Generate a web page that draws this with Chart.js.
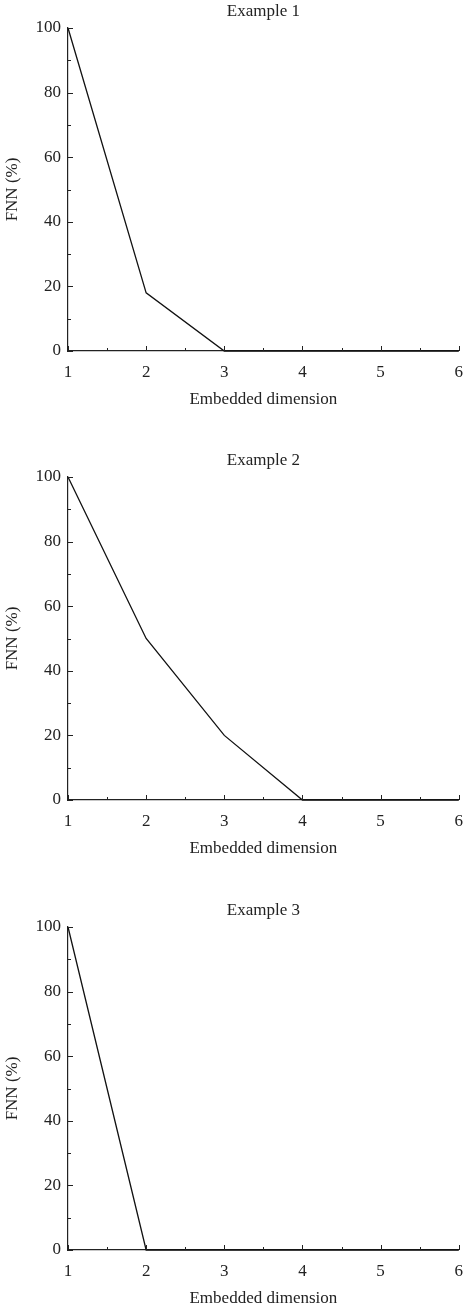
<!DOCTYPE html>
<html><head><meta charset="utf-8">
<script src="https://cdn.jsdelivr.net/npm/chart.js@4/dist/chart.umd.min.js"></script>
<style>body{margin:0;background:#fff;width:474px;height:1309px;position:relative;overflow:hidden}
.p{position:absolute;left:0;width:474px;height:410px}</style></head>
<body>
<div class="p" style="top:0"><canvas id="c0"></canvas></div>
<div class="p" style="top:449px"><canvas id="c1"></canvas></div>
<div class="p" style="top:899px"><canvas id="c2"></canvas></div>
<script>
const dims = [1, 2, 3, 4, 5, 6];
const example1 = [100, 18, 0, 0, 0, 0];
const example2 = [100, 50, 20, 0, 0, 0];
const example3 = [100, 0, 0, 0, 0, 0];
const titles = ['Example 1', 'Example 2', 'Example 3'];
const yTicks = [0, 20, 40, 60, 80, 100];
const series = [example1, example2, example3];
const FONT = "'Liberation Serif', serif";

const inwardTicks = {
  id: 'inwardTicks',
  afterDraw(chart, args, opts) {
    const {ctx, scales:{x, y}} = chart;
    ctx.save(); ctx.strokeStyle = '#222'; ctx.lineWidth = 1;
    for (let v = 1; v <= 6; v += 0.5) {
      const px = Math.round(x.getPixelForValue(v)) + 0.5;
      const len = Number.isInteger(v) ? 5 : 3;
      ctx.beginPath(); ctx.moveTo(px, y.bottom); ctx.lineTo(px, y.bottom - len); ctx.stroke();
    }
    for (let v = 0; v <= 100; v += 10) {
      const py = Math.round(y.getPixelForValue(v)) + 0.5;
      const len = v % 20 === 0 ? 5 : 3;
      ctx.beginPath(); ctx.moveTo(x.left, py); ctx.lineTo(x.left + len, py); ctx.stroke();
    }
    ctx.fillStyle = '#222'; ctx.font = "17px " + FONT;
    ctx.textAlign = 'center'; ctx.textBaseline = 'middle';
    ctx.fillText(opts.text, (x.left + x.right) / 2, 12);
    ctx.restore();
  }
};

series.forEach((vals, i) => {
  new Chart(document.getElementById('c' + i), {
    type: 'line',
    data: { datasets: [{ data: dims.map((d, k) => ({x: d, y: vals[k]})), borderColor: '#111', borderWidth: 1.3, pointRadius: 0, tension: 0, clip: false }] },
    options: {
      responsive: true, maintainAspectRatio: false, animation: false,
      layout: { padding: { left: 0, right: 4, top: 28, bottom: 0 } },
      plugins: {
        legend: { display: false }, tooltip: { enabled: false },
        title: { display: false },
        inwardTicks: { text: titles[i] }
      },
      scales: {
        x: {
          type: 'linear', min: 1, max: 6,
          grid: { display: false, drawTicks: false },
          border: { display: true, color: '#222', width: 1.2 },
          ticks: { stepSize: 1, color: '#222', padding: 11, font: { family: FONT, size: 17 } },
          title: { display: true, text: 'Embedded dimension', color: '#222', font: { family: FONT, size: 17 }, padding: { top: 0, bottom: 0 } },
          afterFit(s) { s.height = 59; }
        },
        y: {
          min: 0, max: 100,
          afterBuildTicks(s) { s.ticks = yTicks.map(v => ({value: v})); },
          grid: { display: false, drawTicks: false },
          border: { display: true, color: '#222', width: 1.2 },
          ticks: { color: '#222', padding: 7, font: { family: FONT, size: 17 } },
          title: { display: true, text: 'FNN (%)', color: '#222', font: { family: FONT, size: 17 }, padding: { top: 2, bottom: 4 } },
          afterFit(s) { s.width = 68; }
        }
      }
    },
    plugins: [inwardTicks]
  });
});
</script></body></html>
